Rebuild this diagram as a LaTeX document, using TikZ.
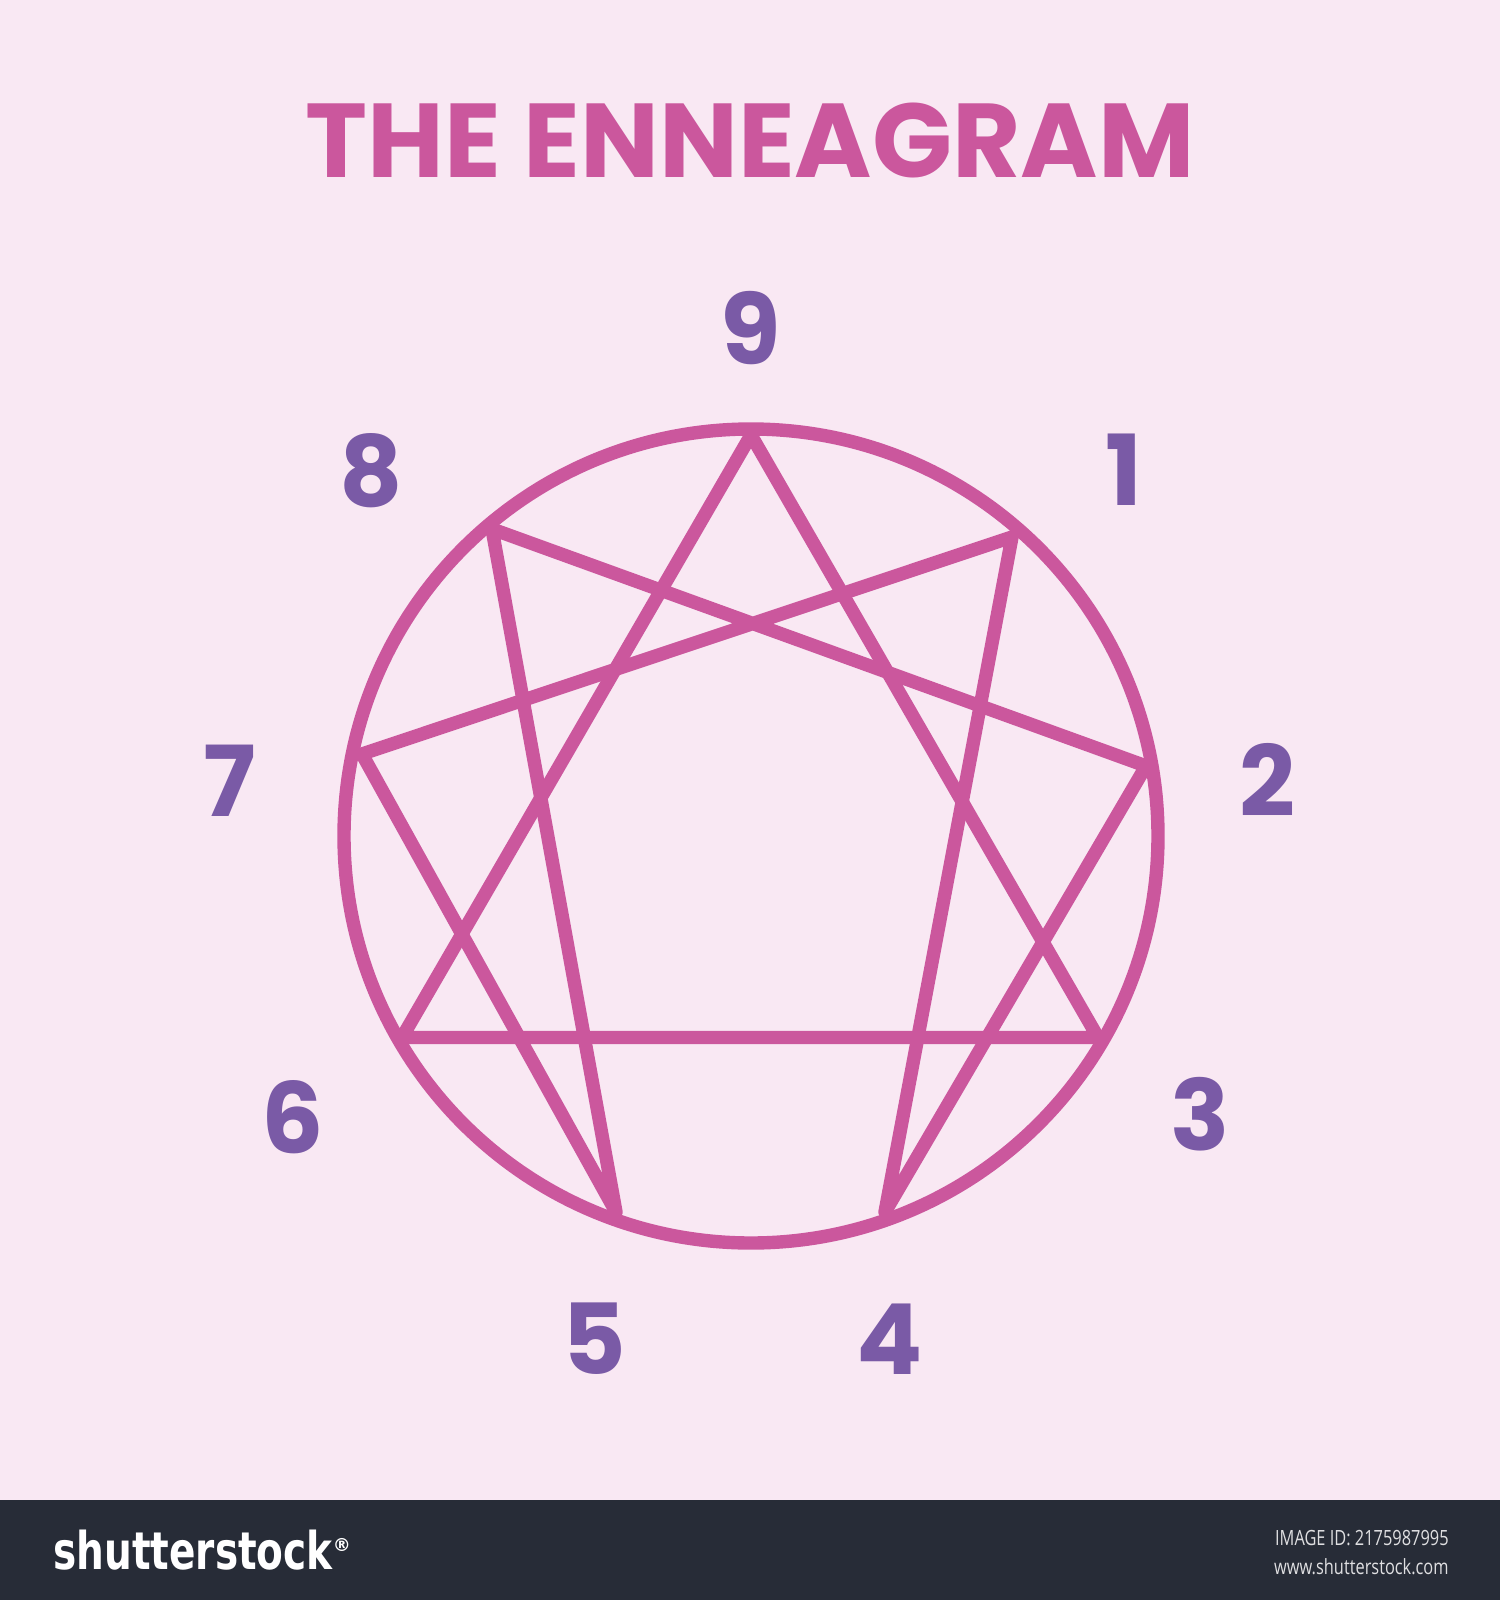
\documentclass[tikz,border=0pt]{standalone}
\usepackage{fontspec}
\setmainfont{Poppins}
\newfontfamily\footfont{Open Sans}
\newfontfamily\logofont{DejaVu Sans}
\definecolor{bgc}{HTML}{F9E8F3}
\definecolor{pinkc}{HTML}{CB579D}
\definecolor{purplec}{HTML}{7A5AA6}
\definecolor{footc}{HTML}{272C37}
\tikzset{
  ring/.style={draw=pinkc, line width=6.7pt},
  starline/.style={draw=pinkc, line width=6.7pt, line join=round, line cap=round},
  numlabel/.style={text=purplec, font=\fontsize{49}{49}\selectfont\bfseries, inner sep=0pt},
  titletext/.style={text=pinkc, font=\fontsize{52.5}{52.5}\selectfont\bfseries, inner sep=0pt},
  footsmall/.style={text=white!85!footc, font=\footfont\fontsize{10.5}{10.5}\selectfont, inner sep=0pt},
  logotext/.style={text=white, font=\logofont\fontsize{26}{26}\selectfont\bfseries, inner sep=0pt}
}
\begin{document}
\begin{tikzpicture}[x=0.5pt,y=-0.5pt]
\fill[bgc] (0,0) rectangle (1500,1600);
\useasboundingbox (0,0) rectangle (1500,1600);
\fill[footc] (0,1500) rectangle (1500,1600);
\node[titletext] (title) at (750,140) {THE ENNEAGRAM};
\coordinate (c) at (751,836);
\draw[ring] (c) circle[radius=407];
\coordinate (p9) at (751,435);
\coordinate (p1) at (1012,537);
\coordinate (p2) at (1146,766);
\coordinate (p3) at (1098,1037.5);
\coordinate (p4) at (885,1212);
\coordinate (p5) at (616,1212);
\coordinate (p6) at (402,1037.5);
\coordinate (p7) at (362,754);
\coordinate (p8) at (492,529);
\draw[starline] (p9) -- (p3) -- (p6) -- cycle;
\draw[starline] (p1) -- (p4) -- (p2) -- (p8) -- (p5) -- (p7) -- cycle;
\node[numlabel] (l9) at (751,328) {9};
\node[numlabel] (l1) at (1124,470) {1};
\node[numlabel] (l2) at (1267,780) {2};
\node[numlabel] (l3) at (1200,1114) {3};
\node[numlabel] (l4) at (890,1339) {4};
\node[numlabel] (l5) at (594,1339) {5};
\node[numlabel] (l6) at (293,1117) {6};
\node[numlabel] (l7) at (230,781) {7};
\node[numlabel] (l8) at (371,471) {8};
\node[logotext, anchor=west] (logo) at (53,1550) {\scalebox{0.75}[1]{shutterstock}\textsuperscript{\fontsize{9}{9}\selectfont\textregistered}};
\node[footsmall, anchor=east] (imgid) at (1449,1538) {\scalebox{0.78}[1]{IMAGE ID: 2175987995}};
\node[footsmall, anchor=east] (url) at (1449,1567) {\scalebox{0.78}[1]{www.shutterstock.com}};
\end{tikzpicture}
\end{document}
